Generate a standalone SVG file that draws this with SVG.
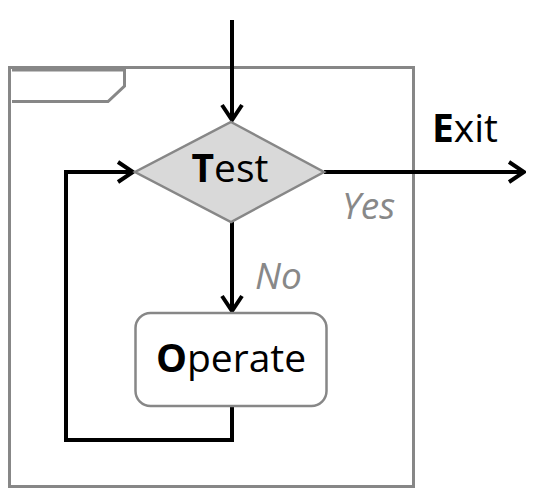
<svg xmlns="http://www.w3.org/2000/svg" width="550" height="496" viewBox="0 0 550 496">
<defs>
<style>
.frame{fill:none;stroke:#878787;stroke-width:3}
.node{stroke:#878787;stroke-width:2.5}
.conn{fill:none;stroke:#000;stroke-width:4}
.lbl{font-family:"Open Sans","Noto Sans",sans-serif;font-size:39px;fill:#000}
.bold{font-weight:bold}
.cond{font-family:"Open Sans","Noto Sans",sans-serif;font-size:37px;font-style:italic;fill:#888}
</style>
<marker id="arr" markerUnits="userSpaceOnUse" viewBox="-20 -13 22 26" refX="0" refY="0" markerWidth="22" markerHeight="26" orient="auto">
<path d="M-15,-10 L0,0 L-15,10" fill="none" stroke="#000" stroke-width="4"/>
</marker>
</defs>
<g id="frame">
<rect class="frame" x="9.5" y="67.5" width="404" height="419"/>
<path class="frame" d="M12,70 H124.5 V86 L108,101.5 H12"/>
</g>
<g id="connectors">
<path class="conn" d="M232,20 V120" marker-end="url(#arr)"/>
<path class="conn" d="M324,172 H524" marker-end="url(#arr)"/>
<path class="conn" d="M232,222 V311" marker-end="url(#arr)"/>
<path class="conn" d="M232,406 V440 H66 V172 H133" marker-end="url(#arr)"/>
</g>
<g id="test">
<polygon class="node" fill="#d9d9d9" points="231,122 324,172 231,222 135,172"/>
<text class="lbl" x="230" y="182" text-anchor="middle"><tspan class="bold">T</tspan>est</text>
</g>
<g id="operate">
<rect class="node" fill="#fff" x="135.5" y="313" width="191" height="93" rx="15"/>
<text class="lbl" x="231" y="372" text-anchor="middle"><tspan class="bold">O</tspan>perate</text>
</g>
<g id="exit">
<text class="lbl" x="432" y="142"><tspan class="bold">E</tspan>xit</text>
</g>
<g id="labels">
<text class="cond" x="342" y="219">Yes</text>
<text class="cond" x="255" y="289">No</text>
</g>
</svg>
